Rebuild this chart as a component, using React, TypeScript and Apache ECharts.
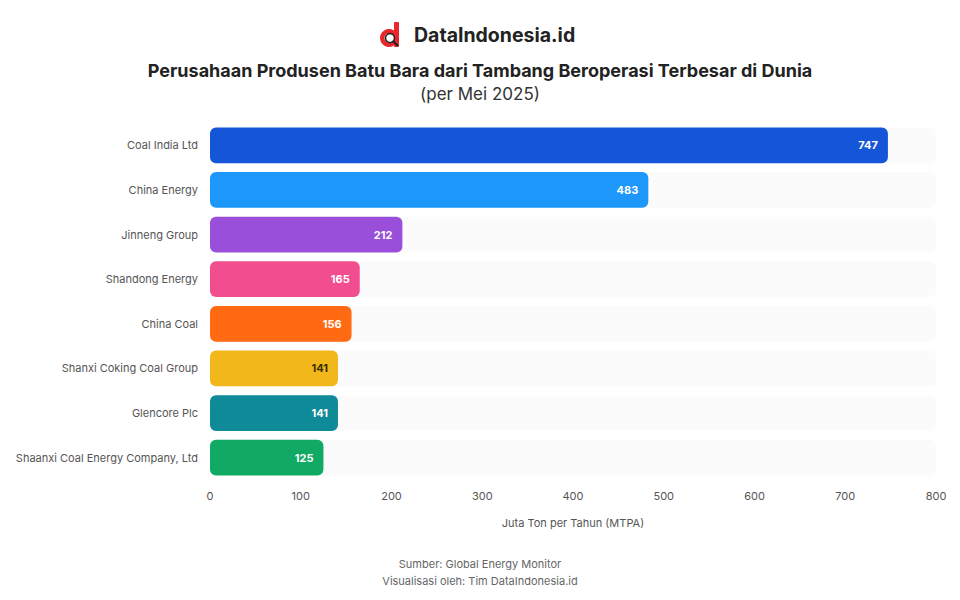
import React, { useEffect, useRef } from "react";
import * as echarts from "echarts";

const categories = [
  "Coal India Ltd",
  "China Energy",
  "Jinneng Group",
  "Shandong Energy",
  "China Coal",
  "Shanxi Coking Coal Group",
  "Glencore Plc",
  "Shaanxi Coal Energy Company, Ltd",
];
const values = [747, 483, 212, 165, 156, 141, 141, 125];
const barColors = ["#1556d8", "#1e97fb", "#9a4fdb", "#f24d8e", "#ff6a13", "#f1b71b", "#0f8a98", "#10aa65"];
const labelColors = ["#ffffff", "#ffffff", "#ffffff", "#ffffff", "#ffffff", "#3a3000", "#ffffff", "#ffffff"];
const xTicks = [0, 100, 200, 300, 400, 500, 600, 700, 800];
const footerLines = ["Sumber: Global Energy Monitor", "Visualisasi oleh: Tim DataIndonesia.id"];

const FONT = "Inter, 'Noto Sans', sans-serif";

export default function App() {
  const ref = useRef<HTMLDivElement>(null);
  useEffect(() => {
    if (!ref.current) return;
    const chart = echarts.init(ref.current, null, { renderer: "svg" });
    chart.setOption({
      animation: false,
      backgroundColor: "#ffffff",
      textStyle: { fontFamily: FONT },
      title: [
        {
          text: "Perusahaan Produsen Batu Bara dari Tambang Beroperasi Terbesar di Dunia",
          left: "center",
          top: 56,
          textStyle: { fontSize: 18, fontWeight: "bold", color: "#222222", fontFamily: FONT },
        },
        {
          text: "(per Mei 2025)",
          left: "center",
          top: 80,
          textStyle: { fontSize: 17, fontWeight: "normal", color: "#333333", fontFamily: FONT },
        },
      ],
      graphic: [
        {
          type: "text",
          x: 414,
          y: 35,
          style: {
            text: "DataIndonesia.id",
            fontSize: 19.5,
            fontWeight: "bold",
            fill: "#222222",
            fontFamily: FONT,
            verticalAlign: "middle",
          },
        },
        { type: "ring", shape: { cx: 389, cy: 38, r: 9, r0: 4.5 }, style: { fill: "#e8262c" } },
        { type: "rect", shape: { x: 394, y: 22, width: 5, height: 25, r: 1 }, style: { fill: "#e8262c" } },
        { type: "circle", shape: { cx: 390, cy: 38, r: 4.5 }, style: { fill: "#ffffff", stroke: "#222222", lineWidth: 1.5 } },
        { type: "line", shape: { x1: 393, y1: 41, x2: 398, y2: 46 }, style: { stroke: "#222222", lineWidth: 2 } },
        ...footerLines.map((t, i) => ({
          type: "text",
          x: 480,
          y: 564 + i * 17,
          style: {
            text: t,
            fontSize: 11,
            fill: "#666666",
            fontFamily: FONT,
            align: "center",
            verticalAlign: "middle",
          },
        })),
      ],
      grid: { left: 210, right: 24, top: 123, bottom: 120, containLabel: false },
      xAxis: {
        type: "value",
        min: 0,
        max: 800,
        interval: 100,
        name: "Juta Ton per Tahun (MTPA)",
        nameLocation: "middle",
        nameGap: 37,
        nameTextStyle: { fontSize: 11, color: "#555555" },
        axisLabel: {
          fontSize: 11,
          color: "#555555",
          margin: 10,
          formatter: (v: number) => (xTicks.includes(v) ? String(v) : ""),
        },
        axisLine: { show: false },
        axisTick: { show: false },
        splitLine: { show: false },
      },
      yAxis: {
        type: "category",
        data: categories,
        inverse: true,
        axisLabel: { fontSize: 11, color: "#555555", margin: 12 },
        axisLine: { show: false },
        axisTick: { show: false },
        splitLine: { show: false },
      },
      series: [
        {
          type: "bar",
          data: values.map((v, i) => ({
            value: v,
            itemStyle: { color: barColors[i] },
            label: { color: labelColors[i] },
          })),
          barWidth: "80%",
          showBackground: true,
          backgroundStyle: { color: "#fbfbfc", borderRadius: 6 },
          itemStyle: { borderRadius: 6 },
          label: {
            show: true,
            position: "insideRight",
            distance: 10,
            fontSize: 11,
            fontWeight: "bold",
          },
        },
      ],
    });
    return () => chart.dispose();
  }, []);
  return <div ref={ref} style={{ position: "fixed", left: 0, top: 0, width: 960, height: 600 }} />;
}
